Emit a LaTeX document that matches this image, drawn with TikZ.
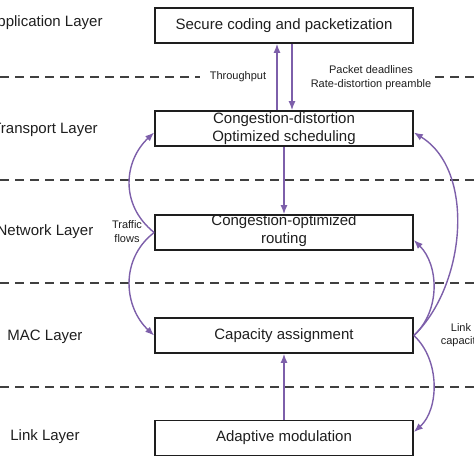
\documentclass[tikz,border=0pt]{standalone}
\usepackage{fontspec}
\setmainfont{Liberation Sans}
\usetikzlibrary{arrows.meta}
\definecolor{arrowpurple}{RGB}{125,95,170}
\definecolor{ink}{RGB}{30,30,30}
\begin{document}
\begin{tikzpicture}[x=1pt,y=-1pt,
  box/.style={draw=ink,line width=1.7pt,minimum width=258pt,minimum height=35pt,inner sep=0pt},
  boxtext/.style={font=\fontsize{15}{18}\selectfont,align=center,text=ink,inner sep=0pt},
  layer/.style={font=\fontsize{15}{18}\selectfont,text=ink},
  small/.style={font=\fontsize{11}{13.5}\selectfont,align=center,text=ink,inner sep=0pt},
  sep/.style={draw=ink!85,line width=1.6pt,dash pattern=on 9pt off 6pt},
  flow/.style={draw=arrowpurple,line width=1.4pt,-{Latex[length=9pt,width=7pt]}}]
\useasboundingbox (0,0) rectangle (474,474);
\clip (0,0) rectangle (474,474);

% layer separators
\draw[sep] (0,77) -- (200,77);
\draw[sep] (435,77) -- (474,77);
\draw[sep] (0,180) -- (474,180);
\draw[sep] (0,283) -- (474,283);
\draw[sep] (0,387) -- (474,387);

% layer labels
\node[layer] (l1) at (45,23) {Application Layer};
\node[layer] (l2) at (45,130) {Transport Layer};
\node[layer] (l3) at (45,232) {Network Layer};
\node[layer] (l4) at (45,337) {MAC Layer};
\node[layer] (l5) at (45,437) {Link Layer};

% boxes
\node[box] (b1) at (284,25.5) {};
\node[box] (b2) at (284,128.5) {};
\node[box] (b3) at (284,232.5) {};
\node[box] (b4) at (284,335.5) {};
\node[box] (b5) at (284,438) {};

\node[boxtext] (t1) at (b1.center) {Secure coding and packetization};
\node[boxtext] (t2) at (b2.center) {Congestion-distortion\\Optimized scheduling};
\node[boxtext] (t3) at ([yshift=2pt]b3.center) {Congestion-optimized\\routing};
\node[boxtext] (t4) at (b4.center) {Capacity assignment};
\node[boxtext] (t5) at (b5.center) {Adaptive modulation};

% small labels
\node[small] (thr) at (238,77) {Throughput};
\node[small] (pkt) at (371,77.5) {Packet deadlines\\Rate-distortion preamble};
\node[small] (tf) at (127,231.5) {Traffic\\flows};
\node[small] (lc) at (461,335) {Link\\capacity};

% vertical flows
\draw[flow] ([xshift=-7pt]b2.north) -- ([xshift=-7pt]b1.south);
\draw[flow] ([xshift=8pt]b1.south) -- ([xshift=8pt]b2.north);
\draw[flow] (b2.south) -- (b3.north);
\draw[flow] (b5.north) -- (b4.south);

% traffic flows (left)
\draw[flow] (b3.west) .. controls +(-35,-28) and +(-30,28) .. ([yshift=-4pt]b2.west);
\draw[flow] (b3.west) .. controls +(-35,27) and +(-30,-28) .. (b4.west);

% link capacity (right)
\draw[flow] (b4.east) .. controls +(52,-50) and +(62,38) .. ([yshift=-4pt]b2.east);
\draw[flow] (b4.east) .. controls +(27,-25) and +(25,25) .. ([yshift=-7.5pt]b3.east);
\draw[flow] (b4.east) .. controls +(27,25) and +(25,-22) .. ([yshift=6pt]b5.east);
\end{tikzpicture}
\end{document}
